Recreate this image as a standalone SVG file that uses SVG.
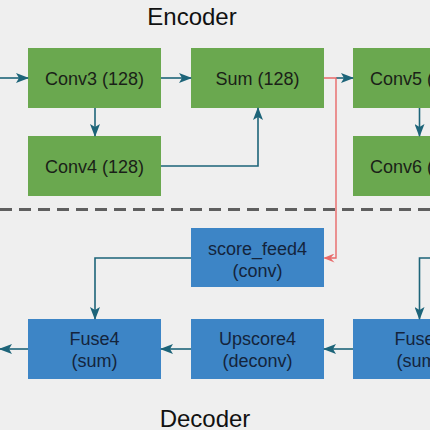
<svg xmlns="http://www.w3.org/2000/svg" width="430" height="430" viewBox="0 0 430 430">
<defs>
<style>
.bg{fill:#efefef}
.g rect{fill:#6aa84f}
.b rect{fill:#3d85c6}
.t{font-family:"Liberation Sans",Arial,sans-serif;font-size:18px;text-anchor:middle}
.g .t{fill:#1a1f18}
.b .t{fill:#14243c}
.title{font-family:"Liberation Sans",Arial,sans-serif;font-size:24px;text-anchor:middle;fill:#111}
.c{fill:none;stroke:#1d6479;stroke-width:1.6}
.r{fill:none;stroke:#e86a6a;stroke-width:1.4}
.dash{stroke:#5f5f5f;stroke-width:3;stroke-dasharray:12 7}
</style>
<marker id="ah" markerWidth="13" markerHeight="10" refX="12" refY="5" orient="auto" markerUnits="userSpaceOnUse">
<path d="M0,0 L13,5 L0,10 L3,5 z" fill="#1d6479"/>
</marker>
<marker id="ahr" markerWidth="11" markerHeight="9" refX="10" refY="4.5" orient="auto" markerUnits="userSpaceOnUse">
<path d="M0,0 L11,4.5 L0,9 L4,4.5 z" fill="#e86a6a"/>
</marker>
</defs>
<rect class="bg" x="0" y="0" width="430" height="430"/>
<text class="title" x="192" y="25" font-size="25">Encoder</text>
<text class="title" x="205" y="427">Decoder</text>
<line class="dash" x1="0" y1="209.5" x2="430" y2="209.5"/>

<g id="conv3" class="g"><rect x="28" y="48" width="133" height="60"/><text class="t" x="94.5" y="84.5">Conv3 (128)</text></g>
<g id="sum" class="g"><rect x="191" y="48" width="133" height="60"/><text class="t" x="257.5" y="84.5">Sum (128)</text></g>
<g id="conv5" class="g"><rect x="353" y="48" width="133" height="60"/><text class="t" x="419.5" y="84.5">Conv5 (256)</text></g>
<g id="conv4" class="g"><rect x="28" y="136" width="133" height="60"/><text class="t" x="94.5" y="172.5">Conv4 (128)</text></g>
<g id="conv6" class="g"><rect x="353" y="136" width="133" height="60"/><text class="t" x="419.5" y="172.5">Conv6 (256)</text></g>

<g id="score_feed4" class="b"><rect x="191" y="228" width="133" height="59"/><text class="t" x="257.5" y="254.5">score_feed4</text><text class="t" x="257.5" y="277">(conv)</text></g>
<g id="fuse4" class="b"><rect x="28" y="319" width="133" height="60"/><text class="t" x="94.5" y="345">Fuse4</text><text class="t" x="94.5" y="367">(sum)</text></g>
<g id="upscore4" class="b"><rect x="191" y="319" width="133" height="60"/><text class="t" x="257.5" y="345">Upscore4</text><text class="t" x="257.5" y="367">(deconv)</text></g>
<g id="fuse5" class="b"><rect x="353" y="319" width="133" height="60"/><text class="t" x="419.5" y="345">Fuse5</text><text class="t" x="419.5" y="367">(sum)</text></g>

<g id="connectors">
<line class="c" x1="0" y1="78" x2="28" y2="78" marker-end="url(#ah)"/>
<line class="c" x1="161" y1="78" x2="191" y2="78" marker-end="url(#ah)"/>
<line class="c" x1="95" y1="108" x2="95" y2="136" marker-end="url(#ah)"/>
<polyline class="c" points="161,166 258,166 258,108" marker-end="url(#ah)"/>
<line class="c" x1="336" y1="78" x2="353" y2="78" marker-end="url(#ah)"/>
<line class="c" x1="419.5" y1="108" x2="419.5" y2="136" marker-end="url(#ah)"/>
<polyline class="r" points="324,78 336,78 336,258 324.5,258" marker-end="url(#ahr)"/>
<polyline class="c" points="191,258 95,258 95,319" marker-end="url(#ah)"/>
<polyline class="c" points="430,258 419.5,258 419.5,319" marker-end="url(#ah)"/>
<line class="c" x1="353" y1="349" x2="324" y2="349" marker-end="url(#ah)"/>
<line class="c" x1="191" y1="349" x2="161" y2="349" marker-end="url(#ah)"/>
<line class="c" x1="28" y1="349" x2="0" y2="349" marker-end="url(#ah)"/>
</g>
</svg>
